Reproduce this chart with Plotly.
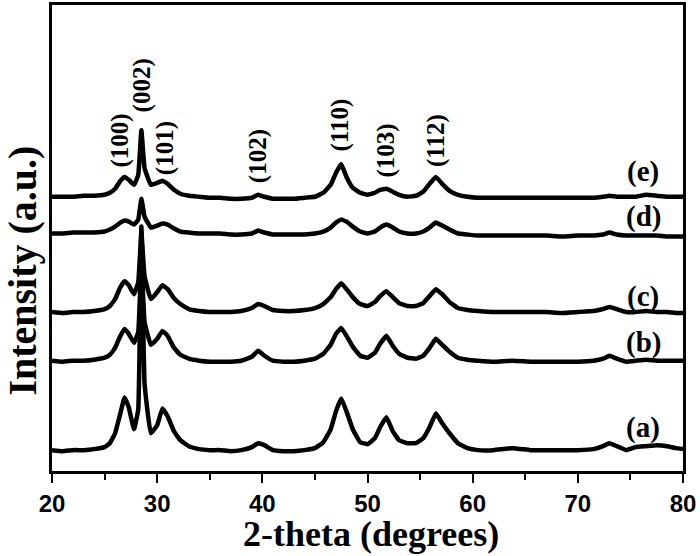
import plotly.graph_objects as go

# 2-theta grid (degrees)
two_theta = [20, 21, 22, 23, 24, 25, 25.5, 26, 26.5, 26.9, 27.3, 27.8, 28.2, 28.5, 28.8,
             29.4, 30.0, 30.5, 31.0, 31.6, 32.2, 33, 34, 35, 36, 37, 38, 39, 39.6, 40.2,
             41, 42, 43, 44, 45, 45.8, 46.5, 47.0, 47.5, 48.0, 48.6, 49.3, 50.0, 50.7, 51.2,
             51.8, 52.4, 53.0, 53.8, 54.6, 55.3, 55.9, 56.5, 57.1, 57.8, 58.6, 59.5, 60.5, 62,
             63.8, 65.5, 67, 68.5, 70, 71.5, 72.4, 73.0, 73.7, 74.6, 75.5, 76.5, 77.5, 78.5,
             79.3, 80]

# stacked intensities (a.u.)
int_a = [21, 20, 21, 21, 22, 24, 28, 38, 58, 74, 64, 42, 62, 246, 88,
         38, 46, 63, 55, 40, 31, 25, 22, 21, 21, 20, 21, 24, 28, 26,
         21, 20, 20, 21, 23, 29, 42, 60, 73, 60, 42, 29, 27, 33, 44,
         54, 40, 31, 28, 28, 33, 44, 58, 48, 38, 28, 23, 21, 21,
         23, 21, 21, 21, 21, 22, 25, 28, 25, 21, 24, 25, 26, 25,
         23, 22]
int_b = [111, 110, 111, 111, 112, 114, 117, 124, 136, 143, 138, 129, 140, 212, 150,
         127, 133, 141, 136, 124, 117, 113, 111, 110, 110, 110, 111, 115, 121, 116,
         111, 110, 110, 111, 113, 118, 127, 138, 144, 136, 125, 116, 114, 119, 128,
         136, 126, 118, 114, 113, 116, 124, 133, 127, 120, 114, 112, 111, 110,
         111, 110, 110, 110, 110, 111, 113, 116, 113, 110, 111, 112, 111, 111,
         111, 111]
int_c = [160, 159, 160, 160, 161, 163, 166, 173, 185, 191, 187, 178, 190, 240, 196,
         173, 180, 187, 183, 174, 168, 163, 161, 160, 160, 160, 161, 164, 168, 166,
         162, 161, 161, 162, 164, 168, 175, 183, 189, 183, 175, 168, 166, 170, 176,
         181, 175, 169, 166, 166, 169, 176, 183, 178, 170, 164, 162, 161, 160,
         160, 160, 160, 159, 160, 161, 163, 165, 163, 160, 160, 161, 160, 160,
         159, 159]
int_d = [239, 239, 240, 240, 240, 241, 243, 246, 250, 252, 251, 248, 253, 274, 256,
         245, 247, 249, 248, 244, 241, 240, 239, 239, 239, 238, 238, 239, 242, 240,
         238, 238, 238, 238, 239, 241, 245, 250, 253, 251, 246, 241, 239, 241, 245,
         248, 245, 241, 239, 239, 241, 245, 250, 247, 243, 239, 238, 237, 237,
         237, 237, 237, 236, 237, 237, 238, 240, 238, 237, 237, 237, 237, 236,
         236, 236]
int_e = [276, 276, 276, 277, 277, 278, 280, 284, 292, 296, 293, 288, 298, 343, 305,
         288, 290, 292, 289, 283, 279, 277, 276, 275, 275, 274, 274, 275, 278, 276,
         274, 274, 274, 275, 276, 280, 288, 300, 309, 296, 285, 280, 278, 280, 283,
         284, 281, 278, 276, 277, 281, 289, 296, 289, 282, 278, 276, 275, 275,
         275, 275, 275, 275, 275, 275, 276, 277, 276, 276, 276, 278, 277, 276,
         276, 276]

series = [int_a, int_b, int_c, int_d, int_e]
series_labels = ['(a)', '(b)', '(c)', '(d)', '(e)']
label_y = [44, 129, 176, 256, 301]

hkl_labels = ['(100)', '(002)', '(101)', '(102)', '(110)', '(103)', '(112)']
hkl_x = [26.5, 28.65, 30.75, 39.6, 47.4, 51.8, 56.5]
hkl_y = [333, 388, 325, 317, 348, 323, 333]

SERIF = 'Liberation Serif'
SANS = 'Liberation Sans'

fig = go.Figure()
for ys in series:
    fig.add_trace(go.Scatter(x=two_theta, y=ys, mode='lines',
                             line=dict(color='black', width=4.5, shape='spline', smoothing=0.3),
                             showlegend=False, hoverinfo='skip'))

for lab, ly in zip(series_labels, label_y):
    fig.add_annotation(x=76.2, y=ly, text=lab, showarrow=False,
                       font=dict(family=SERIF, size=29, color='black', weight='bold'))

for lab, hx, hy in zip(hkl_labels, hkl_x, hkl_y):
    fig.add_annotation(x=hx, y=hy, text=lab, showarrow=False, textangle=-90,
                       font=dict(family=SERIF, size=25, color='black', weight='bold'))

# axis titles placed as in the original figure
fig.add_annotation(xref='paper', yref='paper', x=0.506, y=-0.136, text='2-theta (degrees)',
                   showarrow=False, xanchor='center', yanchor='middle',
                   font=dict(family=SERIF, size=36, color='black', weight='bold'))
fig.add_annotation(xref='paper', yref='paper', x=-0.046, y=0.43, text='Intensity (a.u.)',
                   showarrow=False, textangle=-90, xanchor='center', yanchor='middle',
                   font=dict(family=SERIF, size=40, color='black', weight='bold'))

fig.update_layout(
    width=700, height=556,
    margin=dict(l=52, r=17, t=2, b=85),
    plot_bgcolor='white', paper_bgcolor='white',
)
fig.update_xaxes(range=[20, 80], dtick=10, ticks='outside', ticklen=9, tickwidth=2,
                 tickcolor='black', showline=True, linewidth=2.5, linecolor='black',
                 mirror=True, showgrid=False, zeroline=False,
                 minor=dict(dtick=5, ticks='outside', ticklen=6, tickwidth=2,
                            tickcolor='black', showgrid=False),
                 tickfont=dict(family=SANS, size=24, color='black', weight='bold'))
fig.update_yaxes(range=[0, 469], showticklabels=False, ticks='', showline=True,
                 linewidth=2.5, linecolor='black', mirror=True, showgrid=False,
                 zeroline=False)

# page has a default body margin; drop it so the figure fills the window
fig.write_html('out.html', config={'displayModeBar': False},
               post_script="document.body.style.margin='0';")
